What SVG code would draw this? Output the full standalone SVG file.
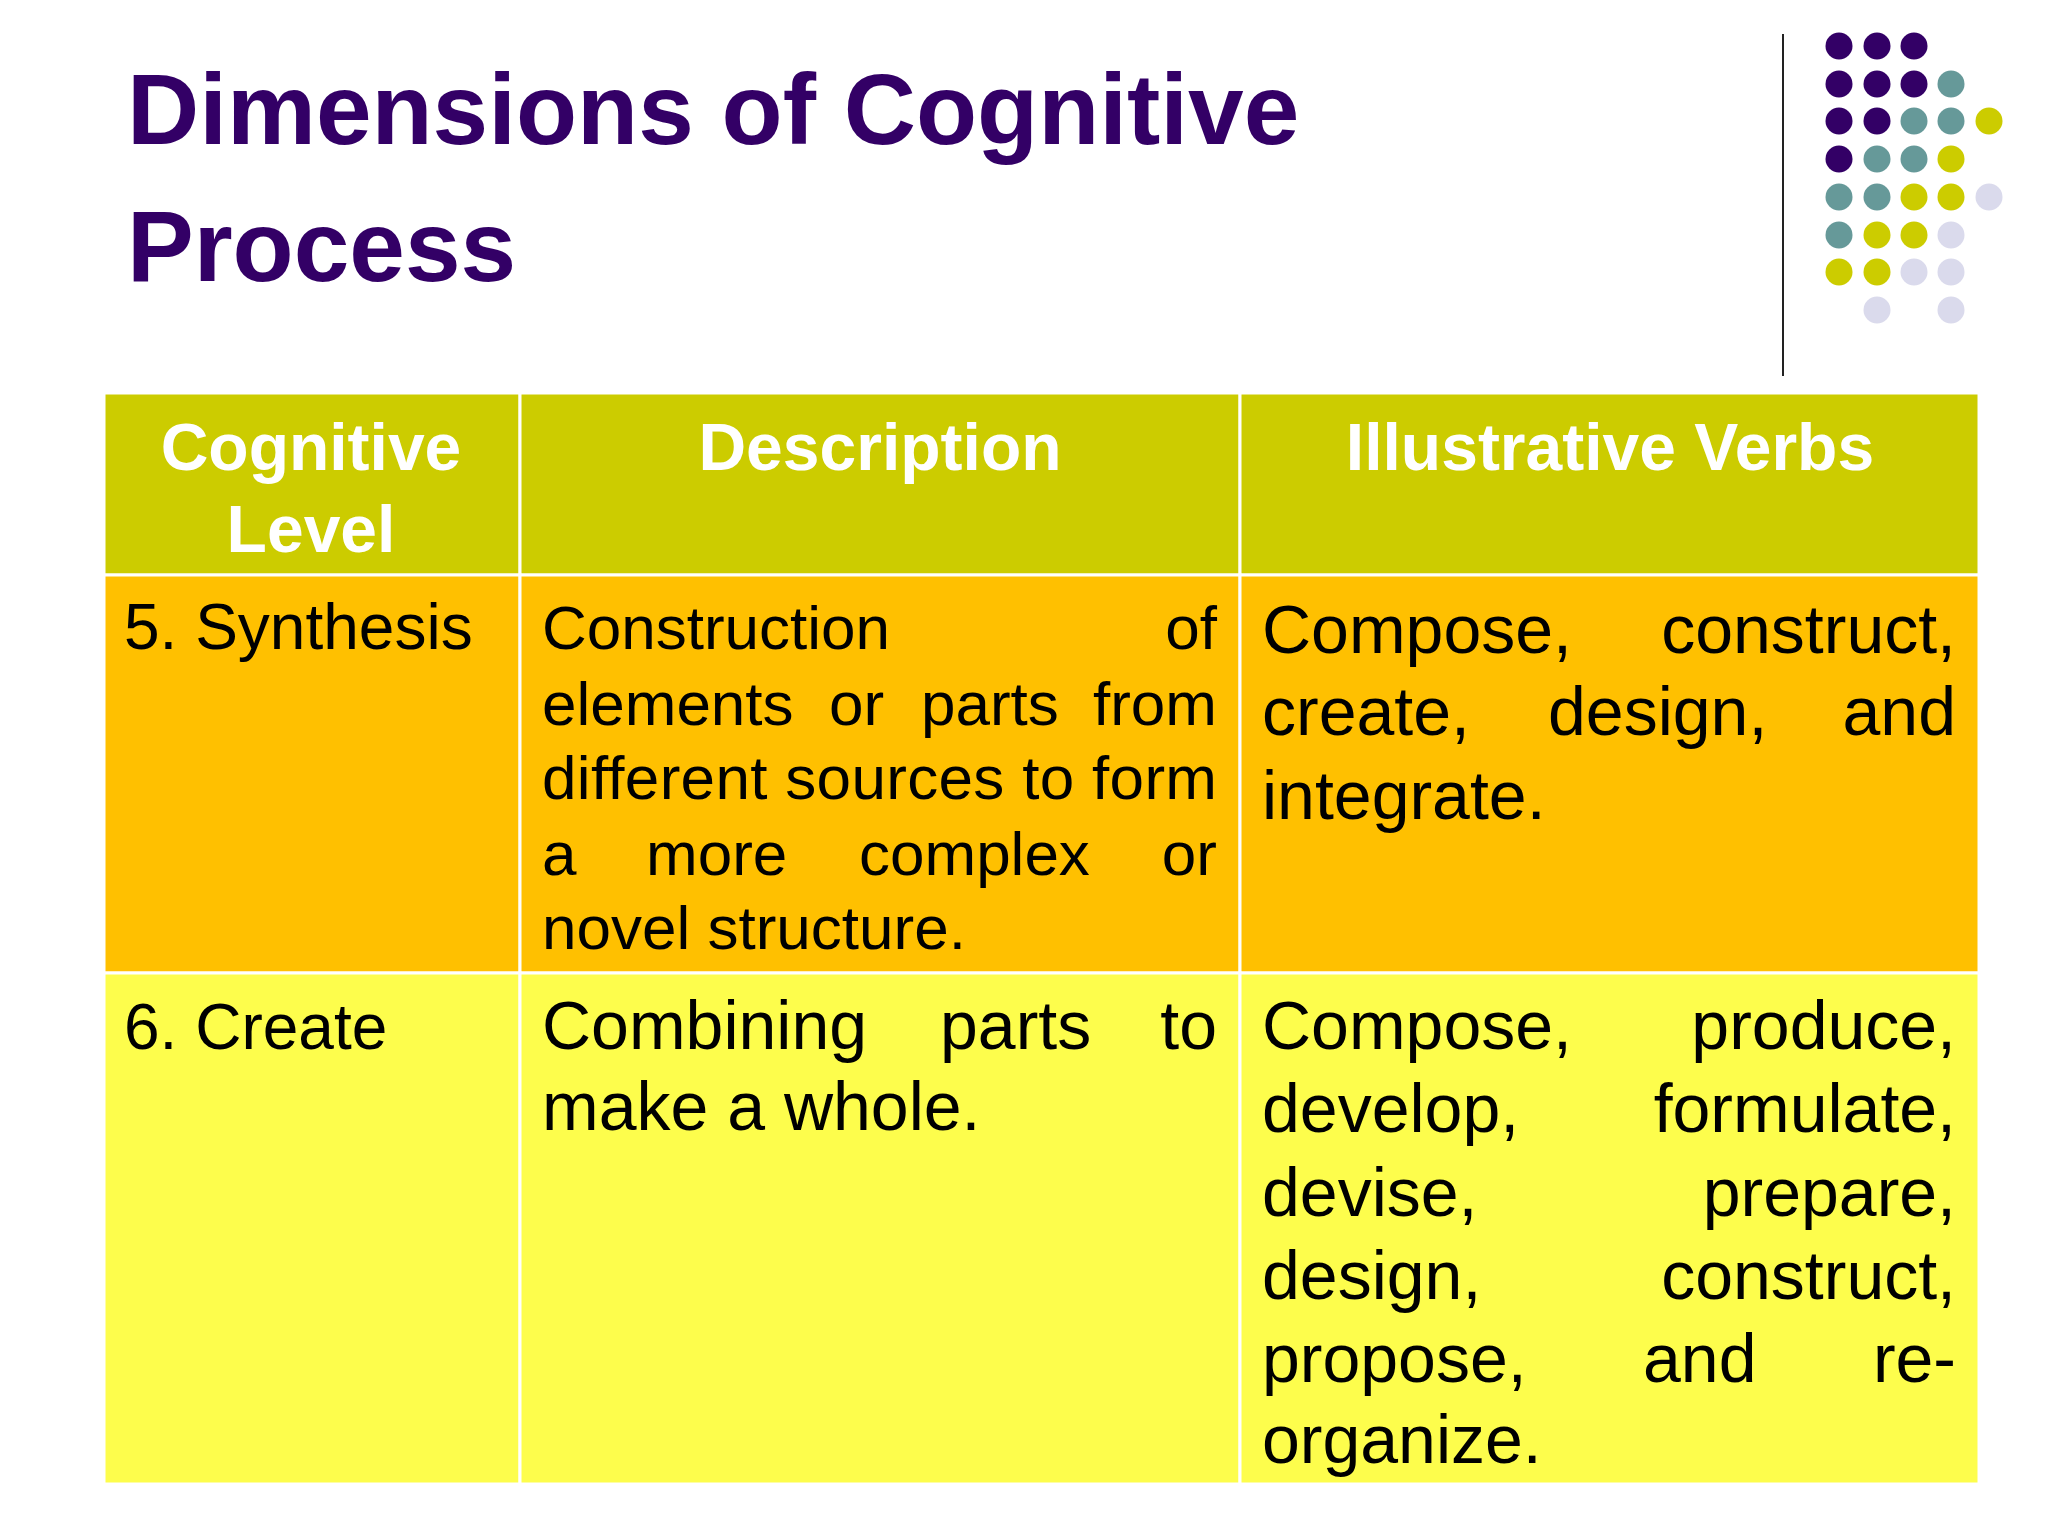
<svg xmlns="http://www.w3.org/2000/svg" width="2048" height="1536" viewBox="0 0 2048 1536">
<style>
text{font-family:"Liberation Sans",Arial,sans-serif;fill:#000}
.t{font-size:100px;font-weight:bold;fill:#330066}
.h{font-size:66px;font-weight:bold;fill:#fff;text-anchor:middle}
.a{font-size:64px}.b{font-size:62px}.c{font-size:68px}
.e{text-anchor:end}
.p{fill:#330066}.g{fill:#669999}.y{fill:#CCCC00}.l{fill:#DADAEC}
</style>
<rect width="2048" height="1536" fill="#fff"/>
<g id="title"><text class="t" x="127" y="144">Dimensions of Cognitive</text><text class="t" x="127" y="281">Process</text></g>
<g id="decor">
<line x1="1783" y1="34" x2="1783" y2="376" stroke="#222" stroke-width="2"/>
<g>
<circle class="p" cx="1839" cy="46" r="13.5"/><circle class="p" cx="1877" cy="46" r="13.5"/><circle class="p" cx="1914" cy="46" r="13.5"/>
<circle class="p" cx="1839" cy="84" r="13.5"/><circle class="p" cx="1877" cy="84" r="13.5"/><circle class="p" cx="1914" cy="84" r="13.5"/><circle class="g" cx="1951" cy="84" r="13.5"/>
<circle class="p" cx="1839" cy="121" r="13.5"/><circle class="p" cx="1877" cy="121" r="13.5"/><circle class="g" cx="1914" cy="121" r="13.5"/><circle class="g" cx="1951" cy="121" r="13.5"/><circle class="y" cx="1989" cy="121" r="13.5"/>
<circle class="p" cx="1839" cy="159" r="13.5"/><circle class="g" cx="1877" cy="159" r="13.5"/><circle class="g" cx="1914" cy="159" r="13.5"/><circle class="y" cx="1951" cy="159" r="13.5"/>
<circle class="g" cx="1839" cy="197" r="13.5"/><circle class="g" cx="1877" cy="197" r="13.5"/><circle class="y" cx="1914" cy="197" r="13.5"/><circle class="y" cx="1951" cy="197" r="13.5"/><circle class="l" cx="1989" cy="197" r="13.5"/>
<circle class="g" cx="1839" cy="235" r="13.5"/><circle class="y" cx="1877" cy="235" r="13.5"/><circle class="y" cx="1914" cy="235" r="13.5"/><circle class="l" cx="1951" cy="235" r="13.5"/>
<circle class="y" cx="1839" cy="272" r="13.5"/><circle class="y" cx="1877" cy="272" r="13.5"/><circle class="l" cx="1914" cy="272" r="13.5"/><circle class="l" cx="1951" cy="272" r="13.5"/>
<circle class="l" cx="1877" cy="310" r="13.5"/><circle class="l" cx="1951" cy="310" r="13.5"/>
</g></g>
<g id="table" stroke="#fff" stroke-width="3">
<rect x="104" y="393" width="416" height="182" fill="#CCCC00"/><rect x="520" y="393" width="720" height="182" fill="#CCCC00"/><rect x="1240" y="393" width="739" height="182" fill="#CCCC00"/>
<rect x="104" y="575" width="416" height="398" fill="#FFC000"/><rect x="520" y="575" width="720" height="398" fill="#FFC000"/><rect x="1240" y="575" width="739" height="398" fill="#FFC000"/>
<rect x="104" y="973" width="416" height="511" fill="#FDFD4C"/><rect x="520" y="973" width="720" height="511" fill="#FDFD4C"/><rect x="1240" y="973" width="739" height="511" fill="#FDFD4C"/>
</g>
<g id="header"><text class="h" x="311" y="470">Cognitive</text><text class="h" x="311" y="552">Level</text><text class="h" x="880" y="470">Description</text><text class="h" x="1610" y="470">Illustrative Verbs</text></g>
<g id="row1">
<text class="a" x="124" y="649">5. Synthesis</text>
<text class="b" x="542" y="649">Construction</text><text class="b e" x="1217" y="649">of</text>
<text class="b" x="542" y="725">elements</text><text class="b" x="829" y="725">or</text><text class="b" x="921" y="725">parts</text><text class="b e" x="1217" y="725">from</text>
<text class="b" x="542" y="799" textLength="675">different sources to form</text>
<text class="b" x="542" y="875">a</text><text class="b" x="646" y="875">more</text><text class="b" x="859" y="875">complex</text><text class="b e" x="1217" y="875">or</text>
<text class="b" x="542" y="949">novel structure.</text>
<text class="c" x="1262" y="653">Compose,</text><text class="c e" x="1956" y="653">construct,</text>
<text class="c" x="1262" y="735">create,</text><text class="c" x="1548" y="735">design,</text><text class="c e" x="1956" y="735">and</text>
<text class="c" x="1262" y="819">integrate.</text>
</g>
<g id="row2">
<text class="a" x="124" y="1049">6. Create</text>
<text class="c" x="542" y="1049">Combining</text><text class="c" x="940" y="1049">parts</text><text class="c e" x="1217" y="1049">to</text>
<text class="c" x="542" y="1130">make a whole.</text>
<text class="c" x="1262" y="1049">Compose,</text><text class="c e" x="1956" y="1049">produce,</text>
<text class="c" x="1262" y="1132">develop,</text><text class="c e" x="1956" y="1132">formulate,</text>
<text class="c" x="1262" y="1216">devise,</text><text class="c e" x="1956" y="1216">prepare,</text>
<text class="c" x="1262" y="1299">design,</text><text class="c e" x="1956" y="1299">construct,</text>
<text class="c" x="1262" y="1382">propose,</text><text class="c" x="1643" y="1382">and</text><text class="c e" x="1956" y="1382">re-</text>
<text class="c" x="1262" y="1463">organize.</text>
</g>
</svg>
